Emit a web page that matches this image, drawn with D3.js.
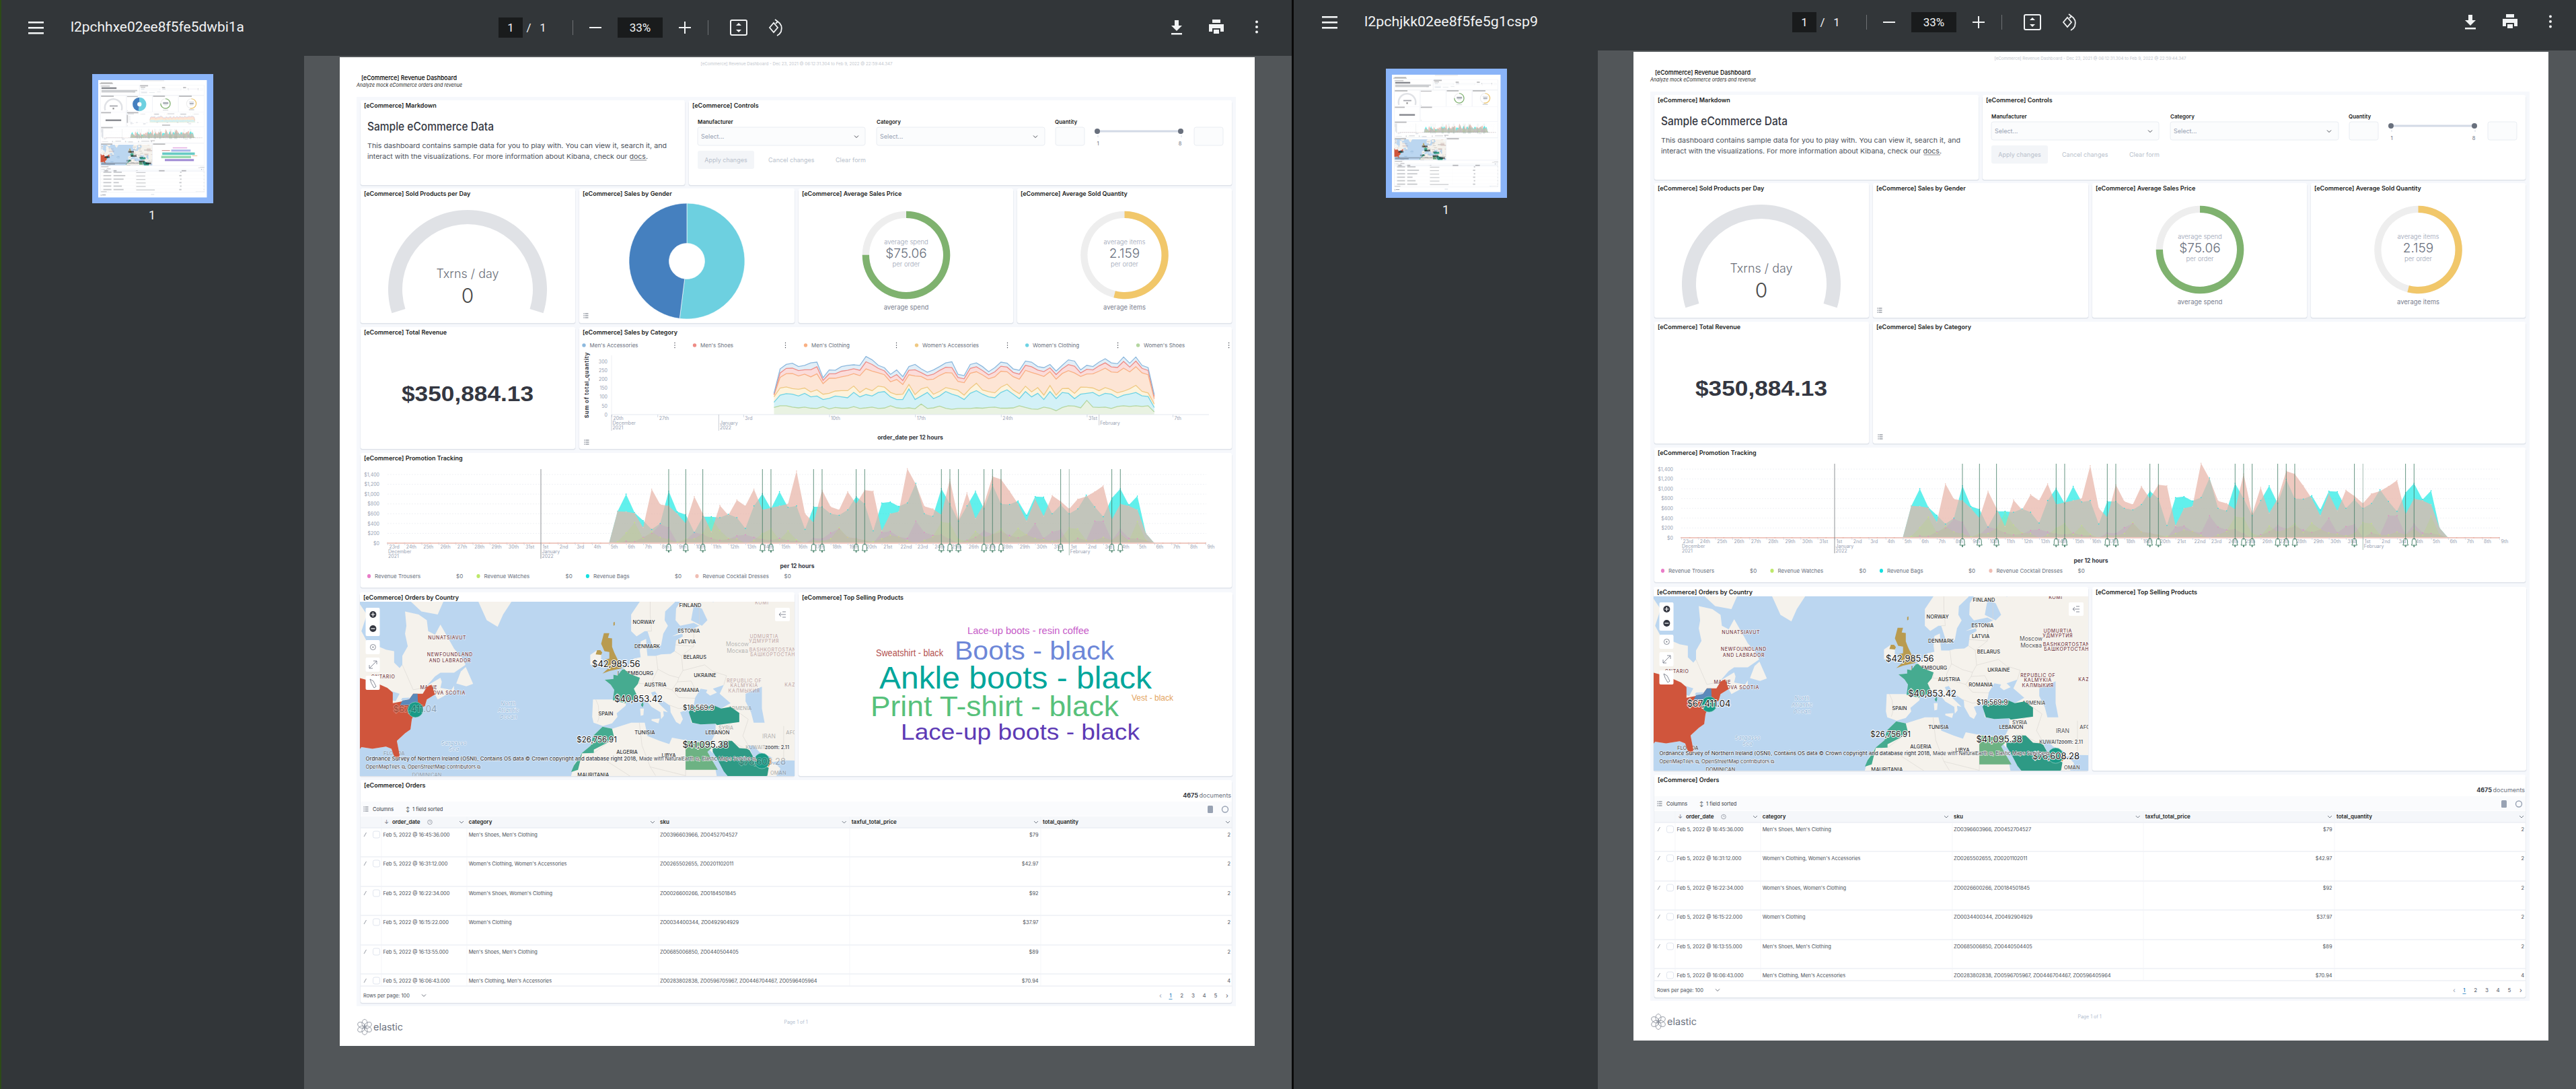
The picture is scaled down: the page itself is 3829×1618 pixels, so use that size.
<!DOCTYPE html>
<html>
<head>
<meta charset="utf-8">
<script src="https://cdn.jsdelivr.net/npm/d3@7"></script>
<style>
  html, body { margin: 0; padding: 0; background: #000; overflow: hidden; }
  svg { display: block; }
  text { font-family: Inter, "Noto Sans", sans-serif; }
  text.rb { font-family: Roboto, sans-serif; }
  text.ar { font-family: "Liberation Sans", Arial, sans-serif; }
</style>
</head>
<body>
<script>
// ---------- data ----------
const panelTitles = ["Markdown", "Controls", "Sold Products per Day", "Sales by Gender", "Average Sales Price",
  "Average Sold Quantity", "Total Revenue", "Sales by Category", "Promotion Tracking", "Orders by Country",
  "Top Selling Products", "Orders"];

const genderValues = [52, 48];
const genderColors = ["#6dd0e0", "#4580bf"];
const spendValue = 75.06;
const itemsValue = 2.159;
const totalRevenue = "$350,884.13";

// sales by category, one point per 12 hours, bottom of the stack first
const salesNames = ["Women's Shoes", "Women's Clothing", "Women's Accessories", "Men's Clothing", "Men's Shoes", "Men's Accessories"];
const salesLine = ["#b4d6a0", "#6ed3e4", "#efc983", "#f9b083", "#ee8c86", "#8db9de"];
const salesFill = ["#e9f2e2", "#d3f1f7", "#fdf3dd", "#fde5d5", "#fbdcda", "#e2eef7"];
const womensShoes = [40,50,50,42,38,42,36,35,45,32,40,36,36,45,35,38,42,35,37,50,38,35,38,33,60,35,38,48,36,30,35,35,35,38,36,40,42,36,36,38,50,40,32,30,42,36,22,40,50,48,38,80,42,40,42,35,46,50,46,50,46,50,15];
const womensClothing = [30,60,68,73,67,78,64,70,40,60,65,64,59,80,65,75,63,90,93,50,47,50,107,52,45,90,52,57,94,85,70,50,85,97,79,60,53,89,104,77,40,90,68,90,43,94,68,85,70,42,77,40,83,65,78,80,49,60,70,75,60,52,25];
const womensAccessories = [30,40,38,32,38,30,28,35,30,28,28,35,40,36,25,35,30,36,25,25,28,30,25,28,40,30,25,26,22,30,32,25,28,42,24,30,28,30,32,24,28,30,28,32,25,34,20,22,28,30,40,34,25,30,32,26,28,22,30,40,25,20,20];
const mensClothing = [10,60,75,85,75,78,85,90,60,85,72,78,85,70,95,110,110,75,70,60,85,55,55,105,70,42,85,90,85,90,50,70,85,65,85,72,90,90,70,75,82,90,110,75,105,78,90,85,100,115,60,75,80,110,110,100,115,130,95,105,105,103,30];
const mensShoes = [5,25,30,30,30,25,40,40,18,25,25,32,30,28,30,40,38,25,22,22,28,22,25,35,22,22,28,28,30,30,22,22,28,28,25,22,28,28,26,24,28,28,32,24,28,22,26,26,34,38,20,27,22,30,30,28,28,38,27,32,25,24,12];
const mensAccessories = [5,23,22,28,23,25,39,26,15,22,20,26,28,22,28,30,26,17,18,20,26,22,21,30,21,20,24,22,25,33,18,18,22,22,22,18,24,23,22,20,22,24,26,20,22,19,20,20,27,29,17,22,19,21,23,23,21,25,22,23,17,16,10];
const salesLegend = ["Men's Accessories", "Men's Shoes", "Men's Clothing", "Women's Accessories", "Women's Clothing", "Women's Shoes"];
const salesLegendColors = ["#8db9de", "#ee8c86", "#f9b083", "#efc983", "#6ed3e4", "#b4d6a0"];
const salesYTicks = [0, 50, 100, 150, 200, 250, 300];
const salesTickLabels = ["20th", "27th", "3rd", "10th", "17th", "24th", "31st", "7th"];

// promotion tracking, revenue per 12 hours from Jan 5 to Feb 6
const promoCocktail = [0,650,640,610,320,1100,790,760,600,400,950,600,230,770,570,880,760,1100,680,720,760,800,1470,600,420,1080,740,680,1050,800,1080,1060,250,600,640,1520,1200,750,700,580,1300,480,1030,500,800,1360,1300,1060,800,450,900,550,970,850,700,900,950,1050,1170,480,800,760,680,200,0];
const promoBags = [0,650,1000,620,460,280,400,1060,640,580,220,540,540,520,590,520,300,760,1010,700,1050,730,760,280,740,740,600,570,680,950,800,250,820,840,750,820,1220,600,550,1110,800,450,760,1060,700,1190,800,790,860,570,950,940,600,780,600,700,980,740,540,920,1110,780,960,200,0];
const promoTrousers = [0,0,40,30,120,200,380,320,10,60,220,180,100,60,80,150,170,120,80,60,100,50,40,0,100,90,210,290,120,100,60,0,220,240,130,100,450,220,160,170,80,0,60,120,250,180,230,160,110,170,400,100,230,270,0,100,60,450,450,60,280,100,90,60,0];
const promoWatches = [0,30,210,420,100,230,120,80,20,90,90,200,520,260,100,90,0,60,200,290,70,250,70,0,60,40,90,310,120,90,60,30,90,160,130,50,0,60,130,430,410,80,40,240,120,170,290,110,300,170,100,80,40,90,310,290,60,60,120,60,190,50,440,60,0];
const promoLegend = ["Revenue Trousers", "Revenue Watches", "Revenue Bags", "Revenue Cocktail Dresses"];
const promoLegendColors = ["#e97cc8", "#bde86a", "#14e0e0", "#efbdb3"];
const promoYTicks = [0, 200, 400, 600, 800, 1000, 1200, 1400];
const annotationDays = [16.5, 17.5, 18.5, 22, 22.5, 25, 25.5, 27.5, 28, 32.5, 33, 33.5, 35, 35.5, 36, 39.5, 42.5, 43];

// map, outlines as [lon, lat]
const landShapes = [
  [[-110,65],[-95,64],[-92,62],[-94,59],[-92,57],[-85,55.3],[-82,55],[-82,52.5],[-80,51.3],[-79,52],[-79,54],[-77,56],[-78,58.5],[-77.5,60],[-78,62.5],[-73,62],[-70,61],[-69.5,59],[-67,58.3],[-65,60.2],[-62,57.5],[-60,55.5],[-57,53.5],[-55.8,52],[-60,50.2],[-65,50.2],[-67,49.3],[-70,47],[-65,49],[-64.5,48],[-65,46.5],[-61,46],[-60,47],[-60,45.8],[-66,43.5],[-67,44.8],[-70,43.5],[-70.7,41.7],[-74,40.6],[-75.5,38],[-76,35],[-78,33.8],[-81,31.5],[-80,27],[-80.5,25],[-82,26.5],[-83,29],[-85,29.7],[-90,29],[-94,29.5],[-97.5,27.5],[-97.7,22],[-100,15],[-110,15]],
  [[-59.2,47.6],[-57.5,50.5],[-55.7,51.5],[-53,47.5],[-55.5,46.9]],
  [[-55,72],[-52,65],[-48,61],[-44,59.8],[-42,62],[-36,66],[-25,70],[-25,75],[-55,75]],
  [[-78,65],[-72,62.5],[-66,62],[-62,66],[-70,70],[-78,70]],
  [[-74,20],[-71,19.8],[-68.5,18.5],[-71,17.8],[-74,18.2]],
  [[5,62],[5,59],[7,58],[10,59],[11,59],[12.5,56.5],[13,55.4],[14.3,55.5],[16,56.2],[16.8,58.5],[18.5,60],[17.3,61],[17.5,62.5],[21,64],[22,65.5],[25,65.5],[21.5,63],[21.3,61],[23,60],[28,60.5],[30,60],[28,59.5],[23.5,59.3],[24,58],[21.5,57.2],[21,55],[19.5,54.4],[16,54.3],[14,54],[11,54],[10.8,55],[10.5,57.5],[8.5,57],[8.2,55],[8.5,53.7],[6,53.4],[4,52],[1.7,50.9],[0,49.5],[-1.5,49.7],[-1.5,48.7],[-4.7,48.5],[-2.5,47.3],[-1.2,46],[-1.5,43.5],[-9,43.5],[-9.3,38.7],[-8.8,37],[-6,36.2],[-5.4,36],[-2,36.8],[0,38.7],[-0.3,39.7],[3,41.8],[3.2,43.2],[6,43.2],[8.5,44.4],[10.3,43.5],[12.5,41.5],[15.8,40],[16,38],[17,39],[16.8,40.3],[18.5,40],[16,41.8],[13.5,43.7],[12.3,45.3],[13.8,45.6],[15.5,43.7],[19.3,41.8],[19.5,40],[21.5,37.2],[23,36.5],[24,38],[23,40],[26,40.8],[29,41],[28,42],[28.5,44],[30.5,46.3],[33,46],[32.5,45.3],[34,44.5],[36.5,45.3],[35,46.3],[39,47.2],[37.5,45],[41.5,42.5],[38,41],[31.5,41.2],[29,41],[26.5,40],[27,37],[30.5,36.5],[36,36.7],[36,34],[34.5,31.5],[32.5,31],[30,31.3],[25,31.7],[20,32.5],[19,30.5],[15.5,31.5],[11,33],[10,37],[5,37],[-2,35.2],[-5.5,35.8],[-9,33],[-9.8,30],[-13,27.7],[-16,23.7],[-17,20],[-17,12],[75,12],[75,72],[30,72],[14,68],[8,64]],
  [[-10,52],[-6.3,52.2],[-6,53.5],[-6,54.2],[-5.6,54.7],[-6.3,55.2],[-7.5,55.2],[-10,54.2]],
  [[12.5,38],[15.5,38.2],[15,36.8],[12.5,37.6]],
  [[8.3,41],[9.7,41],[9.5,39.2],[8.5,39]],
  [[20,58],[26,58.8],[24,59]]
];
const waterShapes = [
  [[-84.5,46],[-80,45],[-81.5,43],[-82.5,43.2],[-83.5,45]],
  [[-79.5,43.3],[-76.5,43.5],[-76.3,44],[-79,43.9]],
  [[-83,41.6],[-79,42.7],[-79,42.9],[-82.5,42.4]],
  [[47,45],[53,46.8],[53,41],[54,37],[50,37],[49,40],[47,43]],
  [[32.5,30],[34.9,27.5],[35,29.5],[37,25],[39,21.5],[42.5,17.5],[43.5,12],[38,12],[35.6,23.9],[33,28]],
  [[48,30],[50,26],[51.5,24.5],[54,24.1],[56,26],[57,26],[52,28],[50,30]],
  [[56.4,24.5],[58.7,23.5],[59.8,22.4],[57.8,19],[55,17],[52,15.5],[45,12.8],[75,12],[75,25],[61,25.2]],
  [[27,61],[28,63.5],[31,63],[33,61],[31,60]],
  [[35,64],[38,65],[41,66.5],[40,68],[35,66]]
];
const borderLines = [
  [[-8,43.5],[-7,41.8],[-6.8,38.5],[-7.3,37.2]], [[-1.7,43.3],[3,42.5]], [[4.2,50],[6,51],[7,53.4]], [[8.2,49],[8,47.6],[10,47.5],[13,47.5],[13,48.6],[14.8,51],[14.2,54]],
  [[10,47.5],[12.3,46.8],[13.7,46.5]], [[14.8,51],[19,49.6],[22.5,49],[24,50.7],[23.5,54],[21,55]], [[23.5,54],[28,56],[28,59.5]], [[21,56.3],[28,56]], [[24,50.7],[32,52],[35,50.5],[40,49.5],[39,47.2]],
  [[22.5,49],[22,48],[27,48.2],[29,45.5]], [[22,48],[20,46],[22.5,44],[28.5,43.8]], [[16,46.8],[20,46]], [[19,42],[22.5,41],[26,41.5]], [[12,69],[12,62],[12.5,59],[11,59]],
  [[20,69],[24,66],[28,70]], [[30,60],[30,70]], [[8,37],[9,30],[12,23],[14,20]], [[-8.7,27.6],[-1.2,32.5]], [[25,31.7],[25,20]], [[12,23],[25,20]], [[-4,25],[6,19]], [[36,34],[42,37],[44.7,37.2]], [[36,29.2],[40,32],[47,29]], [[44.7,39.8],[48,38],[46,33],[48,30]], [[61,36],[61,25.2]], [[-95,49],[-110,49]], [[-79,52],[-75,46],[-70,46.7]]
];
const countryShapes = [
  { name: "USA", fill: "#d0553c", pts: [[-110,49],[-95,49],[-89.5,48],[-84.5,46.5],[-82.5,45.3],[-82.5,42.5],[-79,43],[-76.5,43.5],[-75,45],[-71.5,45],[-70,46.7],[-68.3,47.3],[-67,44.8],[-70,43.5],[-70.7,41.7],[-74,40.6],[-75.5,38],[-76,35],[-78,33.8],[-81,31.5],[-80,27],[-80.5,25],[-82,26.5],[-83,29],[-85,29.7],[-90,29],[-94,29.5],[-97.5,26],[-110,26]] },
  { name: "New York", fill: "#5a8abb", pts: [[-79.8,42],[-75,42],[-74,41],[-73.2,41],[-73.4,45],[-75,45],[-76.5,43.5],[-79,43.2]] },
  { name: "United Kingdom", fill: "#b99b50", pts: [[-5.5,50],[-3,50.6],[1.4,51.2],[1.7,52.7],[0.2,53],[-1.2,54.7],[-2,55.9],[-2,57.6],[-3.5,57.7],[-3,58.6],[-5,58.6],[-6,56.5],[-4.8,55],[-3,54.8],[-3,53.4],[-4.5,53.2],[-4.3,52.2],[-5.2,51.7],[-3,51.4]] },
  { name: "Northern Ireland", fill: "#b99b50", pts: [[-8,54.3],[-6,54.2],[-5.6,54.7],[-6.3,55.2],[-7.5,55.2]] },
  { name: "Shetland", fill: "#b99b50", pts: [[-1.5,60],[-1,60.1],[-1,60.7],[-1.5,60.6]] },
  { name: "France", fill: "#46ab90", pts: [[2.5,51],[4.2,50],[8.2,49],[7.5,47.5],[6,46.3],[7.5,44],[6,43.2],[3.2,43.2],[3,42.5],[-1.7,43.3],[-1.2,46],[-2.5,47.3],[-4.7,48.5],[-1.5,48.7],[-1.5,49.7],[0,49.5],[1.7,50.9]] },
  { name: "Corsica", fill: "#46ab90", pts: [[9.4,43],[9.5,42],[9.2,41.4],[8.6,42]] },
  { name: "Morocco", fill: "#45ab90", pts: [[-5.5,35.8],[-2,35.2],[-1.2,32.5],[-3.5,31],[-8.7,28.7],[-8.7,27.6],[-13,27.5],[-14.5,22],[-17,21.3],[-16,23.5],[-14,26],[-13,27.7],[-9.8,30],[-9,33]] },
  { name: "Turkey", fill: "#2e9a85", pts: [[26.2,40],[27.5,42],[29,41.2],[31.5,41.2],[35,42],[38,41],[41.5,41.5],[44.7,39.8],[44.7,37.2],[36.5,36.3],[36,36.7],[30.5,36.5],[27.4,37]] },
  { name: "Egypt", fill: "#6db283", pts: [[25,31.6],[29,31],[32.5,31.2],[34.2,31.3],[34.9,29.5],[33,28],[35.6,23.9],[36.8,22],[25,22]] },
  { name: "Saudi Arabia", fill: "#2e9a85", pts: [[34.9,29.5],[36,29.2],[37.5,30],[38,31.5],[42,31.5],[44.7,29.2],[47.5,29],[48.5,28.5],[50,26],[51.5,24.5],[55.5,22.7],[55,20],[52,19],[49,18.3],[45,17.4],[43.2,16.6],[42.5,17.5],[39,21.5],[37,25],[35,28]] },
  { name: "UAE", fill: "#d98a4a", pts: [[54.5,24.1],[56,26],[56.3,24.5],[55.5,23]] }
];
// [name, lon, lat, kind]
const mapLabels = [
  ["FINLAND",26.7,63.5,"country"],["NORWAY",9.7,60.7,"country"],["ESTONIA",26.2,59,"country"],["LATVIA",25.5,57,"country"],["DENMARK",10.9,56,"country"],
  ["BELARUS",28.4,53.7,"country"],["UKRAINE",32.1,49.6,"country"],["AUSTRIA",13.9,47.2,"country"],["ROMANIA",25.5,46,"country"],["LUXEMBOURG",6.6,50,"country"],
  ["SPAIN",-4.3,39.6,"country"],["TUNISIA",10,34,"country"],["LEBANON",36.7,34,"country"],["ALGERIA",3.5,28,"country"],["LIBYA",18.8,26.8,"country"],["MAURITANIA",-8.9,20.2,"country"],
  ["NUNATSIAVUT",-62.5,57.7,"region"],["NEWFOUNDLAND",-61.5,54.3,"region"],["AND LABRADOR",-61.5,53,"region"],["ONTARIO",-86,49.3,"region"],["NOVA SCOTIA",-62.5,45.2,"region"],["MAINE",-69.3,46.5,"region"],
  ["FLORIDA",-82,27.5,"far"],["DOMINICAN",-70,20.2,"far"],["North",-40,42.4,"water"],["Atlantic",-40,40.6,"water"],["Ocean",-40,38.7,"water"],["Sargasso",-60,30.8,"water"],["Sea",-60,28.8,"water"],
  ["Moscow",44,56.4,"farBig"],["Москва",44,55,"farBig"],["UDMURTIA",53.8,58,"farRegion"],["УДМУРТИЯ",53.8,57,"farRegion"],["BASHKORTOSTAN",57,55.2,"farRegion"],["БАШКОРТОСТАН",57,54.2,"farRegion"],
  ["REPUBLIC OF",46.5,48.2,"farRegion"],["KALMYKIA",46.5,47,"farRegion"],["КАЛМЫКИЯ",46.5,45.8,"farRegion"],["KOMI",53,63.9,"farRegion"],["KAZA",64,47.3,"farRegion"],["ARMENIA",45,41,"far"],["SYRIA",39.8,35.4,"far"],
  ["IRAN",55.6,32.8,"farBig"],["AFGI",64,34,"far"],["KUWAIT",50.7,29.4,"far"],["OMAN",59,21,"far"]
];
const mapValues = ["$67,411.04", "$42,985.56", "$40,853.42", "$18,569.9", "$26,756.91", "$41,095.38", "$76,608.28"];
const mapValuePoints = [[-74.3,40.9],[-0.5,52.2],[7.7,43.7],[29.7,41.2],[-7.6,31.8],[32.3,30.2],[53.1,24.8]];
const mapValueSizes = [13, 13, 13, 10, 11.5, 13, 13];
const mapValueFaded = [true, false, false, false, false, false, true];
const mapCircles = [[-74.2,40.7],[53,25]];

// word cloud
const wordNames = ["Ankle boots - black", "Print T-shirt - black", "Boots - black", "Lace-up boots - black", "Lace-up boots - resin coffee", "Sweatshirt - black", "Vest - black"];
const wordCounts = [46, 43, 39, 34, 15, 14, 13];
const wordColors = ["#00a69b", "#57c17b", "#6d87d8", "#5d3ab5", "#c65bc8", "#b2504e", "#e3a45f"];

// orders table
const orderColumns = ["order_date", "category", "sku", "taxful_total_price", "total_quantity"];
const orderDates = ["Feb 5, 2022 @ 16:45:36.000", "Feb 5, 2022 @ 16:31:12.000", "Feb 5, 2022 @ 16:22:34.000", "Feb 5, 2022 @ 16:15:22.000", "Feb 5, 2022 @ 16:13:55.000", "Feb 5, 2022 @ 16:06:43.000"];
const orderCategories = ["Men's Shoes, Men's Clothing", "Women's Clothing, Women's Accessories", "Women's Shoes, Women's Clothing", "Women's Clothing", "Men's Shoes, Men's Clothing", "Men's Clothing, Men's Accessories"];
const orderSkus = ["ZO0396603966, ZO0452704527", "ZO0265502655, ZO0201102011", "ZO0026600266, ZO0184501845", "ZO0034400344, ZO0492904929", "ZO0685006850, ZO0440504405", "ZO0283802838, ZO0596705967, ZO0446704467, ZO0596405964"];
const orderPrices = ["$79", "$42.97", "$92", "$37.97", "$89", "$70.94"];
const orderQuantities = [2, 2, 2, 2, 2, 4];

// ---------- helpers ----------
const svg = d3.select("body").append("svg").attr("width", 3829).attr("height", 1618);
let clipCount = 0;

function txt(g, x, y, s, size, color, o = {}) {
  const t = g.append("text")
    .attr("x", x).attr("y", y).attr("dy", ".35em")
    .attr("font-size", size).attr("fill", color)
    .attr("text-anchor", o.anchor || "start")
    .attr("font-weight", o.weight || 400)
    .text(s);
  if (o.cls) t.attr("class", o.cls);
  if (o.italic) t.attr("font-style", "italic");
  if (o.w) t.attr("textLength", o.w).attr("lengthAdjust", "spacingAndGlyphs");
  if (o.spacing) t.attr("letter-spacing", o.spacing);
  if (o.halo) t.attr("stroke", "#fff").attr("stroke-width", o.halo).attr("paint-order", "stroke");
  return t;
}

function panel(g, x0, y0, x1, y1, title) {
  g.append("rect").attr("x", x0 - 0.5).attr("y", y0 + 1.5).attr("width", x1 - x0 + 1).attr("height", y1 - y0)
    .attr("rx", 3).attr("fill", "#dfe3ea");
  g.append("rect").attr("x", x0).attr("y", y0).attr("width", x1 - x0).attr("height", y1 - y0)
    .attr("rx", 3).attr("fill", "#fff");
  txt(g, x0 + 5, y0 + 8, "[eCommerce] " + title, 9, "#1a1c21", { weight: 600 });
}

function listIcon(g, x, y) {
  d3.range(3).forEach(i => {
    g.append("circle").attr("cx", x - 3).attr("cy", y - 3 + i * 3).attr("r", 0.7).attr("fill", "#69707d");
    g.append("rect").attr("x", x - 1.5).attr("y", y - 3.5 + i * 3).attr("width", 5).attr("height", 1).attr("fill", "#69707d");
  });
}

function chevron(g, x, y, color = "#343741") {
  g.append("path").attr("d", `M${x - 3},${y - 1.5}L${x},${y + 1.5}L${x + 3},${y - 1.5}`)
    .attr("fill", "none").attr("stroke", color).attr("stroke-width", 0.9);
}

function styleAxis(a, size) {
  a.attr("font-size", size);
  a.select(".domain").remove();
  a.selectAll("text").attr("fill", "#98a2b3");
  a.selectAll("line").attr("stroke", "#d3dae6");
}

// ---------- dashboard page, drawn in the left window's pixel frame ----------
function drawPage(g, o) {
  g.append("rect").attr("x", 505).attr("y", 85).attr("width", 1360).attr("height", 1469).attr("fill", "#fff");
  txt(g, 1041.5, 95, "[eCommerce] Revenue Dashboard - Dec 23, 2021 @ 06:12:31.304 to Feb 9, 2022 @ 22:59:44.347", 6.3, "#c3c7ce", { w: 285 });
  txt(g, 537, 116, "[eCommerce] Revenue Dashboard", 9.5, "#000", { weight: 500, w: 142 });
  txt(g, 530, 126, "Analyze mock eCommerce orders and revenue", 7.5, "#222", { italic: true, w: 157 });
  g.append("rect").attr("x", 530).attr("y", 144).attr("width", 1307).attr("height", 1351).attr("fill", "#f6f8fc");

  drawMarkdown(g);
  drawControls(g);
  drawGaugeRow(g, o);
  drawTotal(g);
  drawSales(g, o);
  drawPromotion(g);
  drawMap(g, o);
  drawWords(g, o);
  drawOrders(g);

  // footer
  const logo = g.append("g").attr("transform", "translate(542,1526)");
  d3.range(6).forEach(i => {
    logo.append("ellipse").attr("rx", 4).attr("ry", 6)
      .attr("transform", `rotate(${i * 60}) translate(0,-5.5)`)
      .attr("fill", "none").attr("stroke", "#868c98").attr("stroke-width", 0.8);
  });
  txt(g, 555, 1526, "elastic", 14, "#69707d", { w: 44 });
  txt(g, 1183, 1519, "Page 1 of 1", 7, "#b4c0d0", { anchor: "middle" });
}

function drawMarkdown(g) {
  panel(g, 536, 149, 1018, 275, panelTitles[0]);
  txt(g, 546, 188, "Sample eCommerce Data", 17, "#343741", { weight: 500, w: 188 });
  txt(g, 546, 217, "This dashboard contains sample data for you to play with. You can view it, search it, and", 9.5, "#4a4f59", { w: 445 });
  txt(g, 546, 233, "interact with the visualizations. For more information about Kibana, check our docs.", 9.5, "#4a4f59", { w: 417 });
  g.append("line").attr("x1", 936.5).attr("x2", 961).attr("y1", 238).attr("y2", 238).attr("stroke", "#4a4f59").attr("stroke-width", 0.7);
}

function drawControls(g) {
  panel(g, 1024, 149, 1831, 275, panelTitles[1]);
  const field = (x0, x1, rx = 3) => g.append("rect").attr("x", x0).attr("y", 189).attr("width", x1 - x0).attr("height", 27)
    .attr("rx", rx).attr("fill", "#fbfcfd").attr("stroke", "#e4e8ef").attr("stroke-width", 0.8);
  txt(g, 1037, 181, "Manufacturer", 8, "#1a1c21", { weight: 600 });
  field(1037, 1286);
  txt(g, 1042, 203, "Select...", 9, "#98a2b3");
  chevron(g, 1273, 203);
  txt(g, 1303, 181, "Category", 8, "#1a1c21", { weight: 600 });
  field(1303, 1553);
  txt(g, 1308, 203, "Select...", 9, "#98a2b3");
  chevron(g, 1539, 203);
  txt(g, 1568, 181, "Quantity", 8, "#1a1c21", { weight: 600 });
  field(1569, 1612);
  field(1775, 1818);
  g.append("rect").attr("x", 1631).attr("y", 193.5).attr("width", 124).attr("height", 3).attr("fill", "#d3dae6");
  [1631, 1755].forEach(x => {
    g.append("circle").attr("cx", x).attr("cy", 195).attr("r", 4).attr("fill", "#69707d");
    g.append("rect").attr("x", x + 0.5).attr("y", 201).attr("width", 1).attr("height", 3).attr("fill", "#d3dae6");
  });
  txt(g, 1632, 213, "1", 7.5, "#69707d", { anchor: "middle" });
  txt(g, 1754, 213, "8", 7.5, "#69707d", { anchor: "middle" });
  g.append("rect").attr("x", 1037).attr("y", 224).attr("width", 84).attr("height", 27).attr("rx", 3).attr("fill", "#f3f5f8");
  txt(g, 1079, 238, "Apply changes", 9, "#b8bfcb", { anchor: "middle" });
  txt(g, 1142, 238, "Cancel changes", 9, "#b8bfcb");
  txt(g, 1242, 238, "Clear form", 9, "#b8bfcb");
}

function drawGaugeRow(g, o) {
  panel(g, 536, 280, 855, 480, panelTitles[2]);
  panel(g, 861, 280, 1181, 480, panelTitles[3]);
  panel(g, 1187, 280, 1506, 480, panelTitles[4]);
  panel(g, 1512, 280, 1831, 480, panelTitles[5]);

  // gauge
  const gaugeArc = d3.arc().innerRadius(97).outerRadius(118).startAngle(-1.875).endAngle(1.875);
  g.append("path").attr("transform", "translate(695,430)").attr("d", gaugeArc()).attr("fill", "#e0e2e6");
  txt(g, 695, 407, "Txrns / day", 18, "#6a6e78", { anchor: "middle", weight: 300, w: 93 });
  txt(g, 695, 439, "0", 30, "#4a4a4a", { anchor: "middle", weight: 300 });

  // gender pie
  if (o.full) {
    const pie = d3.pie().sort(null)(genderValues);
    const pieArc = d3.arc().innerRadius(26.5).outerRadius(86);
    g.append("g").attr("transform", "translate(1021,388)").selectAll("path").data(pie).join("path")
      .attr("d", pieArc).attr("fill", (d, i) => genderColors[i]).attr("stroke", "#fff").attr("stroke-width", 0.6);
  }
  listIcon(g, 871, 469);

  // metric rings
  const ring = (cx, value, max, color, label, valueText) => {
    const angle = d3.scaleLinear().domain([0, max]).range([0, 2 * Math.PI]);
    const arc = d3.arc().innerRadius(55).outerRadius(65.3).startAngle(0);
    const c = g.append("g").attr("transform", `translate(${cx},379)`);
    c.append("path").attr("d", arc({ endAngle: 2 * Math.PI })).attr("fill", "#eeeeee");
    c.append("path").attr("d", arc({ endAngle: angle(value) })).attr("fill", color);
    txt(g, cx, 360, label, 9.5, "#98a2b3", { anchor: "middle", weight: 300 });
    txt(g, cx, 376, valueText, 19, "#69707d", { anchor: "middle", weight: 300 });
    txt(g, cx, 393, "per order", 9.5, "#98a2b3", { anchor: "middle", weight: 300 });
    txt(g, cx, 457, label, 9.5, "#7b8190", { anchor: "middle" });
  };
  ring(1347, spendValue, 100, "#7fb26f", "average spend", d3.format("$.2f")(spendValue));
  ring(1671.5, itemsValue, 4, "#f1c76a", "average items", String(itemsValue));
}

function drawTotal(g) {
  panel(g, 536, 486, 855, 667, panelTitles[6]);
  txt(g, 695, 585, totalRevenue, 32, "#343741", { anchor: "middle", weight: 700, cls: "ar", w: 196 });
}

function drawSales(g, o) {
  panel(g, 861, 486, 1831, 667, panelTitles[7]);
  listIcon(g, 872, 657);
  if (!o.full) return;

  const start = new Date(Date.UTC(2021, 11, 23, 6, 12));
  const end = new Date(Date.UTC(2022, 1, 9, 22, 59));
  const x = d3.scaleUtc().domain([start, end]).range([909, 1797]);
  const y = d3.scaleLinear().domain([0, 300]).range([616, 537]);

  // legend
  const legendX = [868, 1032.5, 1197.5, 1362.5, 1526.6, 1691.6];
  salesLegend.forEach((name, i) => {
    g.append("circle").attr("cx", legendX[i]).attr("cy", 513).attr("r", 2.7).attr("fill", salesLegendColors[i]);
    txt(g, legendX[i] + 8.5, 513, name, 8, "#69707d");
    d3.range(3).forEach(k => g.append("circle").attr("cx", legendX[i] + 135).attr("cy", 509.5 + k * 3.5).attr("r", 0.7).attr("fill", "#343741"));
  });

  // stacked areas
  const first = new Date(Date.UTC(2022, 0, 5, 12));
  const rows = womensShoes.map((d, i) => ({
    date: d3.utcHour.offset(first, i * 12),
    s0: womensShoes[i], s1: womensClothing[i], s2: womensAccessories[i],
    s3: mensClothing[i], s4: mensShoes[i], s5: mensAccessories[i]
  }));
  const stack = d3.stack().keys(["s0", "s1", "s2", "s3", "s4", "s5"])(rows);
  const area = d3.area().x(d => x(d.data.date)).y0(d => y(d[0])).y1(d => y(d[1]));
  const top = d3.line().x(d => x(d.data.date)).y(d => y(d[1]));
  stack.forEach((layer, i) => {
    g.append("path").attr("d", area(layer)).attr("fill", salesFill[i]);
  });
  stack.forEach((layer, i) => {
    g.append("path").attr("d", top(layer)).attr("fill", "none").attr("stroke", salesLine[i]).attr("stroke-width", 1.3);
  });

  // axes
  const ya = g.append("g").attr("transform", "translate(909,0)").call(d3.axisLeft(y).tickValues(salesYTicks).tickSize(0).tickPadding(6));
  styleAxis(ya, 7);
  g.append("line").attr("x1", 909).attr("x2", 909).attr("y1", 528).attr("y2", 616).attr("stroke", "#eef0f4");
  g.append("line").attr("x1", 909).attr("x2", 1797).attr("y1", 616).attr("y2", 616).attr("stroke", "#e4e8ef");

  const tickDates = [start].concat(d3.utcDay.range(new Date(Date.UTC(2021, 11, 27)), new Date(Date.UTC(2022, 1, 8)), 7));
  const xa = g.append("g").attr("transform", "translate(0,616)")
    .call(d3.axisBottom(x).tickValues(tickDates).tickFormat((d, i) => salesTickLabels[i]).tickSize(4));
  styleAxis(xa, 7);
  xa.selectAll("text").attr("text-anchor", "start").attr("x", 2).attr("y", 3.5);

  const months = [[start, "December", "2021"], [new Date(Date.UTC(2022, 0, 1)), "January", "2022"], [new Date(Date.UTC(2022, 1, 1)), "February", ""]];
  months.forEach(m => {
    g.append("line").attr("x1", x(m[0])).attr("x2", x(m[0])).attr("y1", 616).attr("y2", m[2] ? 640 : 632).attr("stroke", "#a7adb8").attr("stroke-width", 0.6);
    txt(g, x(m[0]) + 1.5, 629, m[1], 7, "#98a2b3");
    if (m[2]) txt(g, x(m[0]) + 1.5, 636, m[2], 7, "#98a2b3");
  });

  txt(g, 872, 572, "Sum of total_quantity", 8, "#343741", { anchor: "middle", weight: 700 })
    .attr("transform", "rotate(-90 872 572)").attr("letter-spacing", 0.7);
  txt(g, 1353, 650, "order_date per 12 hours", 8.5, "#343741", { anchor: "middle", weight: 700 });
}

function drawPromotion(g) {
  panel(g, 536, 673, 1831, 873, panelTitles[8]);
  const start = new Date(Date.UTC(2021, 11, 23));
  const end = new Date(Date.UTC(2022, 1, 9, 1));
  const x = d3.scaleUtc().domain([start, end]).range([576, 1793]);
  const y = d3.scaleLinear().domain([0, 1400]).range([807, 705]);
  const first = new Date(Date.UTC(2022, 0, 5));
  const dates = promoBags.map((d, i) => d3.utcHour.offset(first, i * 12));

  // grid
  promoYTicks.slice(1).forEach(t => {
    g.append("line").attr("x1", 576).attr("x2", 1793).attr("y1", y(t)).attr("y2", y(t))
      .attr("stroke", "#e8ebf0").attr("stroke-dasharray", "2,2").attr("stroke-width", 0.7);
  });
  const ya = g.append("g").attr("transform", "translate(576,0)")
    .call(d3.axisLeft(y).tickValues(promoYTicks).tickSize(0).tickPadding(12).tickFormat(d3.format("$,")));
  styleAxis(ya, 7);

  const area = vals => d3.area().x((d, i) => x(dates[i])).y0(y(0)).y1(d => y(d))(vals);
  g.append("path").attr("d", area(promoBags)).attr("fill", "#00e6e0").attr("fill-opacity", 0.62);
  g.append("path").attr("d", area(promoCocktail)).attr("fill", "#e8b4a8").attr("fill-opacity", 0.72);
  g.append("path").attr("d", area(promoTrousers)).attr("fill", "#c77ac7").attr("fill-opacity", 0.18);
  g.append("path").attr("d", area(promoWatches)).attr("fill", "#b0e060").attr("fill-opacity", 0.18);
  [[promoTrousers, "#e97cc8"], [promoWatches, "#c4ec70"], [promoBags, "#14e0e0"], [promoCocktail, "#eec5bb"]].forEach(s => {
    s[0].forEach((v, i) => {
      g.append("circle").attr("cx", x(dates[i])).attr("cy", y(v)).attr("r", 0.8).attr("fill", s[1]);
    });
  });

  // pink zero line with its small points
  g.append("line").attr("x1", 576).attr("x2", 1793).attr("y1", 807).attr("y2", 807).attr("stroke", "#efc9c1").attr("stroke-width", 2);
  d3.utcHour.range(start, first, 12).concat(d3.utcHour.range(d3.utcHour.offset(first, 64 * 12), end, 12)).forEach(d => {
    g.append("circle").attr("cx", x(d)).attr("cy", 807).attr("r", 1).attr("fill", "#eab8ad");
  });

  // day labels
  const ord = d => {
    const n = d.getUTCDate();
    const s = n % 10 === 1 && n !== 11 ? "st" : n % 10 === 2 && n !== 12 ? "nd" : n % 10 === 3 && n !== 13 ? "rd" : "th";
    return n + s;
  };
  const xa = g.append("g").attr("transform", "translate(0,807)")
    .call(d3.axisBottom(x).tickValues(d3.utcDay.range(start, end)).tickFormat(ord).tickSize(3));
  styleAxis(xa, 7);
  xa.selectAll("text").attr("text-anchor", "start").attr("x", 2).attr("y", 3);

  // annotations
  annotationDays.forEach(day => {
    const ax = x(d3.utcHour.offset(start, day * 24));
    g.append("line").attr("x1", ax).attr("x2", ax).attr("y1", 697).attr("y2", 810).attr("stroke", "#3d7a62").attr("stroke-width", 0.8);
    g.append("path").attr("transform", `translate(${ax},810)`)
      .attr("d", "M-4,8L-3,6L-3,2Q-3,-2 0,-2Q3,-2 3,2L3,6L4,8ZM-0.5,8V10.5H0.5V8")
      .attr("fill", "none").attr("stroke", "#3d7a62").attr("stroke-width", 0.9);
  });
  const jan = x(new Date(Date.UTC(2022, 0, 1)));
  const feb = x(new Date(Date.UTC(2022, 1, 1)));
  g.append("line").attr("x1", jan).attr("x2", jan).attr("y1", 697).attr("y2", 830).attr("stroke", "#8f9396").attr("stroke-width", 1);
  g.append("line").attr("x1", feb).attr("x2", feb).attr("y1", 697).attr("y2", 825).attr("stroke", "#7fa090").attr("stroke-width", 0.7);
  txt(g, 577, 820, "December", 7, "#98a2b3");
  txt(g, 577, 827, "2021", 7, "#98a2b3");
  txt(g, jan + 1.5, 820, "January", 7, "#98a2b3");
  txt(g, jan + 1.5, 827, "2022", 7, "#98a2b3");
  txt(g, feb + 1.5, 820, "February", 7, "#98a2b3");
  txt(g, 1185, 841, "per 12 hours", 8.5, "#343741", { anchor: "middle", weight: 700 });

  const legendX = [548.5, 711, 873.4, 1036];
  promoLegend.forEach((name, i) => {
    g.append("ellipse").attr("cx", legendX[i]).attr("cy", 856).attr("rx", 2.6).attr("ry", 2.9).attr("fill", promoLegendColors[i]);
    txt(g, legendX[i] + 8.5, 856, name, 8, "#69707d");
    txt(g, legendX[i] + 129.5, 856, "$0", 8, "#69707d");
  });
}

function drawMap(g, o) {
  panel(g, 535, 880, 1181, 1153, panelTitles[9]);
  const id = "mapclip" + (clipCount++);
  g.append("clipPath").attr("id", id).append("rect").attr("x", 535).attr("y", 894).attr("width", 646).attr("height", 259);
  const m = g.append("g").attr("clip-path", `url(#${id})`);
  m.append("rect").attr("x", 535).attr("y", 894).attr("width", 646).attr("height", 259).attr("fill", "#bbd6f0");

  const proj = d3.geoMercator().scale(232).center([2.5, 46.5]).translate([928, 1022]);
  const closed = d3.line().x(d => proj(d)[0]).y(d => proj(d)[1]).curve(d3.curveLinearClosed);
  const open = d3.line().x(d => proj(d)[0]).y(d => proj(d)[1]);

  landShapes.forEach(s => m.append("path").attr("d", closed(s)).attr("fill", "#f5f2ec"));
  waterShapes.forEach(s => m.append("path").attr("d", closed(s)).attr("fill", "#bbd6f0"));
  borderLines.forEach(s => m.append("path").attr("d", open(s)).attr("fill", "none").attr("stroke", "#d9d5d0").attr("stroke-width", 0.6));

  const farOp = o.full ? 0.4 : 1;
  const labelStyle = {
    country: { size: 7.5, color: "#333", weight: 500, op: 1 },
    region: { size: 7, color: "#7a4448", weight: 500, op: 1, spacing: 0.6 },
    water: { size: 7.5, color: "#7da8d0", weight: 400, op: 1, italic: true, spacing: 0.6 },
    far: { size: 7.5, color: "#555", weight: 500, op: farOp },
    farBig: { size: 8.5, color: "#555", weight: 400, op: farOp },
    farRegion: { size: 7, color: "#7a4448", weight: 500, op: farOp, spacing: 0.6 }
  };
  mapLabels.forEach(l => {
    const p = proj([l[1], l[2]]);
    const st = labelStyle[l[3]];
    txt(m, p[0], p[1], l[0], st.size, st.color, { anchor: "middle", weight: st.weight, italic: st.italic, spacing: st.spacing, halo: 0.8 })
      .attr("opacity", st.op);
  });

  countryShapes.forEach(c => m.append("path").attr("d", closed(c.pts)).attr("fill", c.fill));
  mapCircles.forEach(c => {
    const p = proj(c);
    m.append("circle").attr("cx", p[0]).attr("cy", p[1]).attr("r", 11.5).attr("fill", "#199a86").attr("stroke", "#a9d9cf").attr("stroke-width", 0.6);
  });
  mapValues.forEach((v, i) => {
    const p = proj(mapValuePoints[i]);
    txt(m, p[0], p[1], v, mapValueSizes[i], "#111", { anchor: "middle", halo: 1.8 })
      .attr("opacity", o.full && mapValueFaded[i] ? 0.28 : 1);
  });

  // attribution and controls sit above the map
  txt(m, 543.5, 1127, "Ordnance Survey of Northern Ireland (OSNI), Contains OS data © Crown copyright and database right 2018,", 7.4, "#343741", { weight: 500, w: 404, halo: 1 });
  txt(m, 950, 1127, "Made with NaturalEarth ⧉, Elastic Maps Service ⧉,", 7.4, "#343741", { w: 175, halo: 1 });
  txt(m, 543.5, 1139, "OpenMapTiles ⧉, OpenStreetMap contributors ⧉", 7.4, "#343741", { w: 171, halo: 1 });
  txt(m, 1155, 1110, "zoom: 2.11", 7.4, "#343741", { anchor: "middle", weight: 500, halo: 1 });

  const box = (x, y, w, h) => m.append("rect").attr("x", x).attr("y", y).attr("width", w).attr("height", h).attr("rx", 2).attr("fill", "#fff");
  box(543.5, 903, 21, 42);
  box(543.5, 951, 21, 21);
  box(543.5, 977, 21, 21);
  box(543.5, 1004, 21, 21);
  box(1152, 903, 22, 20);
  [[913, "M-3,0H3M0,-3V3"], [934, "M-3,0H3"]].forEach(b => {
    m.append("circle").attr("cx", 554.4).attr("cy", b[0]).attr("r", 5).attr("fill", "#343741");
    m.append("path").attr("transform", `translate(554.4,${b[0]})`).attr("d", b[1]).attr("stroke", "#fff").attr("stroke-width", 1.2);
  });
  m.append("circle").attr("cx", 554.4).attr("cy", 961.5).attr("r", 4).attr("fill", "none").attr("stroke", "#69707d").attr("stroke-width", 0.8);
  m.append("circle").attr("cx", 554.4).attr("cy", 961.5).attr("r", 1).attr("fill", "#69707d");
  m.append("path").attr("d", "M549,993L560,982M555,982H560V987M549,988V993H554").attr("fill", "none").attr("stroke", "#69707d").attr("stroke-width", 0.8);
  m.append("path").attr("d", "M550,1009L555,1012L559,1020L556,1022L552,1015Z").attr("fill", "none").attr("stroke", "#69707d").attr("stroke-width", 0.8);
  m.append("path").attr("d", "M1158,913H1168M1158,913L1161,910M1158,913L1161,916M1163,909H1168M1163,917H1168").attr("fill", "none").attr("stroke", "#69707d").attr("stroke-width", 0.8);
}

function drawWords(g, o) {
  panel(g, 1187, 880, 1832, 1153, panelTitles[10]);
  if (!o.full) return;
  const size = d3.scaleLinear().domain([13, 46]).range([13, 46]);
  // left edge, baseline and width of each word, in wordNames order
  const spots = [[1307, 1023, 405], [1294, 1064, 369], [1419, 980, 237], [1339, 1099, 355], [1438, 942, 181], [1302, 975, 100], [1682, 1041, 62]];
  wordNames.forEach((w, i) => {
    g.append("text").attr("class", "ar").attr("x", spots[i][0]).attr("y", spots[i][1])
      .attr("font-size", size(wordCounts[i])).attr("fill", wordColors[i])
      .attr("textLength", spots[i][2]).attr("lengthAdjust", "spacingAndGlyphs")
      .text(w);
  });
}

function drawOrders(g) {
  panel(g, 536, 1159, 1831, 1490, panelTitles[11]);
  txt(g, 1830, 1182, "documents", 9, "#69707d", { anchor: "end" });
  txt(g, 1781, 1182, "4675", 9, "#343741", { anchor: "end", weight: 700 });
  g.append("rect").attr("x", 536).attr("y", 1191).attr("width", 1295).attr("height", 21).attr("fill", "#fafbfd");
  listIcon(g, 544, 1202);
  txt(g, 554, 1202, "Columns", 7.5, "#343741");
  txt(g, 603, 1202, "↕", 7.5, "#343741");
  txt(g, 613, 1202, "1 field sorted", 7.5, "#343741");
  g.append("rect").attr("x", 1795).attr("y", 1197).attr("width", 8).attr("height", 11).attr("rx", 1.5).attr("fill", "#98a2b3");
  g.append("circle").attr("cx", 1821).attr("cy", 1202.5).attr("r", 4.5).attr("fill", "none").attr("stroke", "#98a2b3").attr("stroke-width", 1.4);

  const colX = [536, 567, 694, 979, 1263, 1547, 1831];
  g.append("rect").attr("x", 536).attr("y", 1213).attr("width", 1295).attr("height", 17).attr("fill", "#f5f7fa");
  const headX = [583, 696.7, 981, 1265.7, 1550];
  const chevX = [686, 970, 1254.7, 1540, 1825];
  orderColumns.forEach((c, i) => {
    txt(g, headX[i], 1221.5, c, 8, "#1a1c21", { weight: 600 });
    chevron(g, chevX[i], 1221.5, "#69707d");
  });
  txt(g, 574.6, 1221.5, "↓", 8, "#69707d", { anchor: "middle" });
  g.append("circle").attr("cx", 639).attr("cy", 1221.5).attr("r", 3.3).attr("fill", "none").attr("stroke", "#69707d").attr("stroke-width", 0.6);
  g.append("path").attr("d", "M639,1219.5V1221.5H640.5").attr("fill", "none").attr("stroke", "#69707d").attr("stroke-width", 0.5);

  const rowLines = [1230, 1273, 1317, 1360, 1404, 1447, 1465];
  rowLines.forEach(y => g.append("line").attr("x1", 536).attr("x2", 1831).attr("y1", y).attr("y2", y).attr("stroke", "#e4e8f0").attr("stroke-width", 1));
  colX.forEach(x => g.append("line").attr("x1", x).attr("x2", x).attr("y1", 1213).attr("y2", 1465).attr("stroke", "#f0f2f6").attr("stroke-width", 0.7));

  orderDates.forEach((d, i) => {
    const y = rowLines[i] + 10;
    g.append("path").attr("d", `M541,${y + 3}L544.5,${y - 3}`).attr("stroke", "#69707d").attr("stroke-width", 0.7);
    g.append("rect").attr("x", 554.5).attr("y", y - 5).attr("width", 10).attr("height", 10).attr("rx", 2.5).attr("fill", "#fff").attr("stroke", "#d3dae6").attr("stroke-width", 0.7);
    txt(g, 569.6, y, d, 7.4, "#4a4f59");
    txt(g, 696.7, y, orderCategories[i], 7.4, "#4a4f59");
    txt(g, 981, y, orderSkus[i], 7.4, "#4a4f59");
    txt(g, 1543.5, y, orderPrices[i], 7.4, "#4a4f59", { anchor: "end" });
    txt(g, 1829, y, orderQuantities[i], 7.4, "#4a4f59", { anchor: "end" });
  });

  txt(g, 540, 1479, "Rows per page: 100", 7.4, "#4a4f59");
  chevron(g, 630, 1479, "#5a606d");
  txt(g, 1725, 1479, "‹", 10, "#98a2b3", { anchor: "middle" });
  d3.range(1, 6).forEach(n => {
    txt(g, 1723 + n * 16.8, 1479, n, 8, n === 1 ? "#006bb4" : "#5a606d", { anchor: "middle" });
  });
  g.append("line").attr("x1", 1737.5).attr("x2", 1742.5).attr("y1", 1484.5).attr("y2", 1484.5).attr("stroke", "#006bb4").attr("stroke-width", 0.7);
  txt(g, 1824, 1479, "›", 10, "#5a606d", { anchor: "middle" });
}

// turn the thumbnail's text into the grey smudges a 12% page shows
function smudge(g) {
  g.selectAll("text").each(function() {
    const b = this.getBBox();
    const t = d3.select(this);
    const big = +t.attr("font-size") > 12;
    const parent = d3.select(this.parentNode);
    parent.insert("rect", () => this)
      .attr("x", b.x).attr("y", b.y + b.height * 0.2).attr("width", b.width).attr("height", b.height * 0.6)
      .attr("fill", t.attr("fill") || "#888").attr("opacity", big ? 0.6 : 0.3)
      .attr("transform", t.attr("transform"));
    t.remove();
  });
}

function drawToolbar(g, title) {
  const ink = "#f1f3f4";
  g.append("rect").attr("x", 0).attr("y", -10).attr("width", 1920).attr("height", 93).attr("fill", "#323639");
  d3.range(3).forEach(i => g.append("rect").attr("x", 42).attr("y", 32 + i * 8).attr("width", 23).attr("height", 2.6).attr("fill", ink));
  txt(g, 105, 40, title, 20.5, ink, { cls: "rb", w: 258 });
  g.append("rect").attr("x", 741).attr("y", 26).attr("width", 36).attr("height", 30).attr("fill", "#191b1c");
  txt(g, 759, 41, "1", 17, ink, { anchor: "middle", cls: "rb" });
  txt(g, 786, 41, "/", 17, ink, { anchor: "middle", cls: "rb" });
  txt(g, 807, 41, "1", 17, ink, { anchor: "middle", cls: "rb" });
  [851, 1052].forEach(x => g.append("rect").attr("x", x).attr("y", 30).attr("width", 1).attr("height", 22).attr("fill", "#6e7174"));
  g.append("rect").attr("x", 876).attr("y", 40).attr("width", 18).attr("height", 2).attr("fill", ink);
  g.append("rect").attr("x", 918).attr("y", 26).attr("width", 67).attr("height", 30).attr("fill", "#191b1c");
  txt(g, 951.5, 41, "33%", 17, ink, { anchor: "middle", cls: "rb" });
  g.append("path").attr("d", "M1009,41H1027M1018,32V50").attr("stroke", ink).attr("stroke-width", 2);
  g.append("rect").attr("x", 1086).attr("y", 30).attr("width", 24).attr("height", 22).attr("rx", 2).attr("fill", "none").attr("stroke", ink).attr("stroke-width", 2);
  g.append("path").attr("d", "M1094,38L1098,34L1102,38ZM1094,44L1098,48L1102,44Z").attr("fill", ink);
  g.append("path").attr("transform", "translate(1152,41)").attr("d", "M-8,0L-2,-7L4,0L-2,7ZM0,-12L4,-9L1,-6M4,-9Q12,-4 9,6Q7,10 3,12")
    .attr("fill", "none").attr("stroke", ink).attr("stroke-width", 1.8);
  g.append("path").attr("transform", "translate(1749,40)").attr("d", "M-3,-10H3V-2H8L0,6L-8,-2H-3ZM-8,9H8V11.5H-8Z").attr("fill", ink);
  g.append("path").attr("transform", "translate(1808,40)").attr("d", "M-6,-11H6V-6H-6ZM-11,-4H11V7H6V2H-6V7H-11ZM-4,4H4V10H-4Z").attr("fill", ink);
  d3.range(3).forEach(i => g.append("circle").attr("cx", 1868).attr("cy", 32.5 + i * 7.5).attr("r", 2).attr("fill", ink));
}

// one PDF viewer window
function drawViewer(o) {
  const win = svg.append("g").attr("transform", `translate(${o.dx},${o.dy})`);
  win.append("rect").attr("x", 0).attr("y", 80).attr("width", 1920).attr("height", 1560).attr("fill", "#525659");
  win.append("rect").attr("x", 0).attr("y", 80).attr("width", 452).attr("height", 1560).attr("fill", "#323639");
  drawPage(win, o);
  drawToolbar(win, o.title);

  // sidebar thumbnail
  win.append("rect").attr("x", 137).attr("y", 110).attr("width", 180).attr("height", 192).attr("fill", "#8ab4f8");
  const thumb = win.append("g").attr("transform", "translate(146,119) scale(0.1187) translate(-505,-85)");
  drawPage(thumb, o);
  smudge(thumb);
  txt(win, 226, 320, "1", 18, "#f1f3f4", { anchor: "middle", cls: "rb" });
}

svg.append("rect").attr("width", 3829).attr("height", 1618).attr("fill", "#050505");
drawViewer({ dx: 0, dy: 0, title: "l2pchhxe02ee8f5fe5dwbi1a", full: true });
svg.append("rect").attr("x", 1920).attr("y", 0).attr("width", 3).attr("height", 1618).attr("fill", "#0a0a0a");
drawViewer({ dx: 1923, dy: -8, title: "l2pchjkk02ee8f5fe5g1csp9", full: false });
svg.append("rect").attr("x", 0).attr("y", 0).attr("width", 2).attr("height", 1618).attr("fill", "#2d4a18");
</script>
</body>
</html>
